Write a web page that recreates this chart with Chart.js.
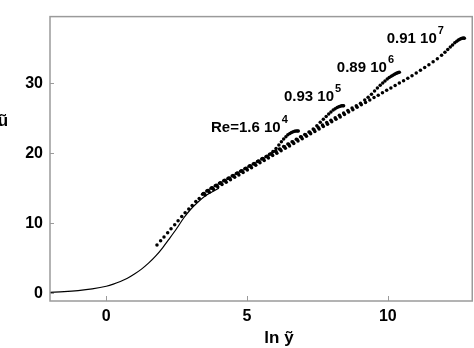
<!DOCTYPE html>
<html lang="en">
<head>
    <meta charset="UTF-8">
    <title>velocity profiles</title>
    <script src="https://cdn.jsdelivr.net/npm/chart.js"></script>
    <style>
        html, body { margin: 0; padding: 0; background: #fff; }
        #profileChart { display: block; }
    </style>
</head>
<body>
<canvas id="profileChart" width="474" height="348"></canvas>
<script>
    // wall law curve (solid line)
    var curveX = [-2, -1.5, -1, -0.5, 0, 0.25, 0.5, 0.75, 1, 1.25, 1.5, 1.75, 2, 2.25, 2.5, 2.75, 3, 3.25, 3.5, 3.75, 4];
    var curveU = [0.14, 0.23, 0.38, 0.62, 1.0, 1.3, 1.68, 2.15, 2.75, 3.45, 4.3, 5.3, 6.5, 7.85, 9.25, 10.75, 12.0, 13.0, 13.85, 14.45, 15.0];

    // near-wall dots, same for all Re
    var innerX = [1.8, 1.93, 2.05, 2.18, 2.3, 2.43, 2.55, 2.68, 2.8, 2.93, 3.05, 3.18, 3.3];
    var innerU = [6.9, 7.5, 8.05, 8.65, 9.2, 9.8, 10.35, 10.95, 11.5, 12.05, 12.55, 13.1, 13.55];

    // Re = 1.6 10^4
    var aX = [3.42, 3.57, 3.72, 3.87, 4.02, 4.17, 4.32, 4.47, 4.62, 4.77, 4.92, 5.07, 5.22, 5.37, 5.52, 5.67, 5.8, 5.92, 6.03, 6.13, 6.22, 6.3, 6.38, 6.45, 6.52, 6.58, 6.64, 6.69, 6.74, 6.78, 6.82];
    var aU = [14.15, 14.6, 14.99, 15.36, 15.71, 16.06, 16.4, 16.75, 17.09, 17.44, 17.78, 18.13, 18.47, 18.82, 19.16, 19.51, 19.85, 20.23, 20.68, 21.16, 21.62, 22.01, 22.36, 22.62, 22.82, 22.96, 23.06, 23.12, 23.16, 23.18, 23.16];

    // Re = 0.93 10^5
    var bX = [3.45, 3.6, 3.75, 3.9, 4.05, 4.2, 4.35, 4.5, 4.65, 4.8, 4.95, 5.1, 5.25, 5.4, 5.55, 5.7, 5.85, 6.0, 6.15, 6.3, 6.45, 6.6, 6.75, 6.9, 7.05, 7.2, 7.35, 7.48, 7.6, 7.71, 7.81, 7.9, 7.98, 8.06, 8.13, 8.2, 8.26, 8.31, 8.36, 8.4, 8.43];
    var bU = [14.25, 14.68, 15.07, 15.43, 15.78, 16.13, 16.47, 16.82, 17.16, 17.51, 17.85, 18.2, 18.54, 18.89, 19.23, 19.58, 19.92, 20.27, 20.61, 20.96, 21.3, 21.65, 21.99, 22.34, 22.68, 23.03, 23.47, 23.92, 24.4, 24.85, 25.23, 25.59, 25.89, 26.15, 26.36, 26.52, 26.63, 26.71, 26.76, 26.79, 26.77];

    // Re = 0.89 10^6
    var cX = [3.48, 3.63, 3.78, 3.93, 4.08, 4.23, 4.38, 4.53, 4.68, 4.83, 4.98, 5.13, 5.28, 5.43, 5.58, 5.73, 5.88, 6.03, 6.18, 6.33, 6.48, 6.63, 6.78, 6.93, 7.08, 7.23, 7.38, 7.53, 7.68, 7.83, 7.98, 8.13, 8.28, 8.43, 8.58, 8.73, 8.88, 9.03, 9.18, 9.3, 9.42, 9.53, 9.63, 9.73, 9.82, 9.9, 9.98, 10.05, 10.12, 10.18, 10.24, 10.29, 10.33, 10.37, 10.41];
    var cU = [14.24, 14.66, 15.04, 15.4, 15.75, 16.09, 16.44, 16.78, 17.13, 17.47, 17.82, 18.16, 18.51, 18.85, 19.2, 19.54, 19.89, 20.23, 20.58, 20.92, 21.27, 21.61, 21.96, 22.3, 22.65, 22.99, 23.34, 23.68, 24.03, 24.37, 24.72, 25.06, 25.41, 25.75, 26.1, 26.44, 26.79, 27.13, 27.58, 27.98, 28.43, 28.88, 29.29, 29.69, 30.03, 30.32, 30.58, 30.79, 30.98, 31.12, 31.27, 31.38, 31.46, 31.52, 31.55];

    // Re = 0.91 10^7
    var dX = [3.51, 3.66, 3.81, 3.96, 4.11, 4.26, 4.41, 4.56, 4.71, 4.86, 5.01, 5.16, 5.31, 5.46, 5.61, 5.76, 5.91, 6.06, 6.21, 6.36, 6.51, 6.66, 6.81, 6.96, 7.11, 7.26, 7.41, 7.56, 7.71, 7.86, 8.01, 8.16, 8.31, 8.46, 8.61, 8.76, 8.91, 9.06, 9.21, 9.36, 9.51, 9.66, 9.81, 9.96, 10.11, 10.26, 10.41, 10.56, 10.71, 10.86, 11.01, 11.16, 11.31, 11.46, 11.61, 11.76, 11.91, 12.03, 12.13, 12.22, 12.3, 12.38, 12.45, 12.51, 12.56, 12.61, 12.65, 12.69, 12.72];
    var dU = [14.02, 14.44, 14.81, 15.17, 15.52, 15.86, 16.21, 16.55, 16.9, 17.24, 17.59, 17.93, 18.28, 18.62, 18.97, 19.31, 19.66, 20.0, 20.35, 20.69, 21.04, 21.38, 21.73, 22.07, 22.42, 22.76, 23.11, 23.45, 23.8, 24.14, 24.49, 24.83, 25.18, 25.52, 25.87, 26.21, 26.56, 26.9, 27.25, 27.59, 27.94, 28.28, 28.63, 28.97, 29.32, 29.66, 30.01, 30.35, 30.7, 31.04, 31.44, 31.83, 32.23, 32.62, 33.04, 33.49, 33.98, 34.4, 34.8, 35.16, 35.46, 35.75, 35.99, 36.17, 36.28, 36.36, 36.41, 36.43, 36.42];

    var xTicks = [0, 5, 10];
    var yTicks = [0, 10, 20, 30];
    var reText = ['Re=1.6 10', '0.93 10', '0.89 10', '0.91 10'];
    var reExp = ['4', '5', '6', '7'];

    // where the Re labels sit (data coords, left / baseline)
    var labelAt = [[3.72, 23.0], [6.31, 27.5], [8.19, 31.6], [9.96, 35.7]];

    function zip(xs, ys) {
        return xs.map(function (v, i) { return {x: v, y: ys[i]}; });
    }

    function dots(xs, ys) {
        return {
            data: zip(xs, ys),
            showLine: false,
            pointRadius: 1.75,
            pointBorderWidth: 0,
            pointBackgroundColor: '#000',
            pointHoverRadius: 1.75
        };
    }

    var font = '"Liberation Sans", Arial, Helvetica, sans-serif';

    var decor = {
        id: 'decor',
        afterDraw: function (chart) {
            var ctx = chart.ctx, a = chart.chartArea;
            var x = chart.scales.x, y = chart.scales.y;
            ctx.save();
            ctx.strokeStyle = '#9a9a9a';
            ctx.lineWidth = 1.5;
            ctx.strokeRect(a.left, a.top, a.right - a.left, a.bottom - a.top);
            // ticks point inward
            ctx.beginPath();
            xTicks.forEach(function (v) {
                var px = Math.round(x.getPixelForValue(v)) + 0.5;
                ctx.moveTo(px, a.bottom);
                ctx.lineTo(px, a.bottom - 5);
            });
            yTicks.forEach(function (v) {
                var py = Math.round(y.getPixelForValue(v)) + 0.5;
                ctx.moveTo(a.left, py);
                ctx.lineTo(a.left + 4, py);
            });
            ctx.lineWidth = 1;
            ctx.stroke();

            ctx.fillStyle = '#000';
            ctx.textBaseline = 'alphabetic';
            ctx.textAlign = 'left';
            reText.forEach(function (t, i) {
                var px = x.getPixelForValue(labelAt[i][0]);
                var py = y.getPixelForValue(labelAt[i][1]);
                ctx.font = 'bold 15px ' + font;
                ctx.fillText(t, px, py);
                var w = ctx.measureText(t).width;
                ctx.font = 'bold 11px ' + font;
                ctx.fillText(reExp[i], px + w + 1, py - 9);
            });

            // axis titles
            ctx.font = 'bold 17px ' + font;
            ctx.textAlign = 'center';
            ctx.fillText('ũ', 3, 126);
            ctx.fillText('ln ỹ', 279, 343);
            ctx.restore();
        }
    };

    var ctx = document.getElementById('profileChart').getContext('2d');
    var profileChart = new Chart(ctx, {
        type: 'scatter',
        data: {
            datasets: [
                dots(innerX, innerU),
                dots(aX, aU),
                dots(bX, bU),
                dots(cX, cU),
                dots(dX, dU),
                {
                    data: zip(curveX, curveU),
                    showLine: true,
                    borderColor: '#000',
                    borderWidth: 1.2,
                    pointRadius: 0,
                    tension: 0.4,
                    cubicInterpolationMode: 'monotone'
                }
            ]
        },
        options: {
            responsive: false,
            animation: false,
            events: [],
            layout: { padding: { top: 1, right: 1, left: 0, bottom: 0 } },
            plugins: { legend: { display: false }, tooltip: { enabled: false } },
            scales: {
                x: {
                    type: 'linear',
                    min: -2,
                    max: 13,
                    grid: { display: false, drawTicks: false },
                    border: { display: false },
                    afterBuildTicks: function (s) { s.ticks = xTicks.map(function (v) { return {value: v}; }); },
                    afterFit: function (s) { s.height = 47; },
                    ticks: { color: '#000', padding: 6, font: { family: font, size: 16, weight: 'bold' } }
                },
                y: {
                    type: 'linear',
                    min: -1.1,
                    max: 39.5,
                    grid: { display: false, drawTicks: false },
                    border: { display: false },
                    afterBuildTicks: function (s) { s.ticks = yTicks.map(function (v) { return {value: v}; }); },
                    afterFit: function (s) { s.width = 50; },
                    ticks: { color: '#000', padding: 7, font: { family: font, size: 16, weight: 'bold' } }
                }
            }
        },
        plugins: [decor]
    });
</script>
</body>
</html>
